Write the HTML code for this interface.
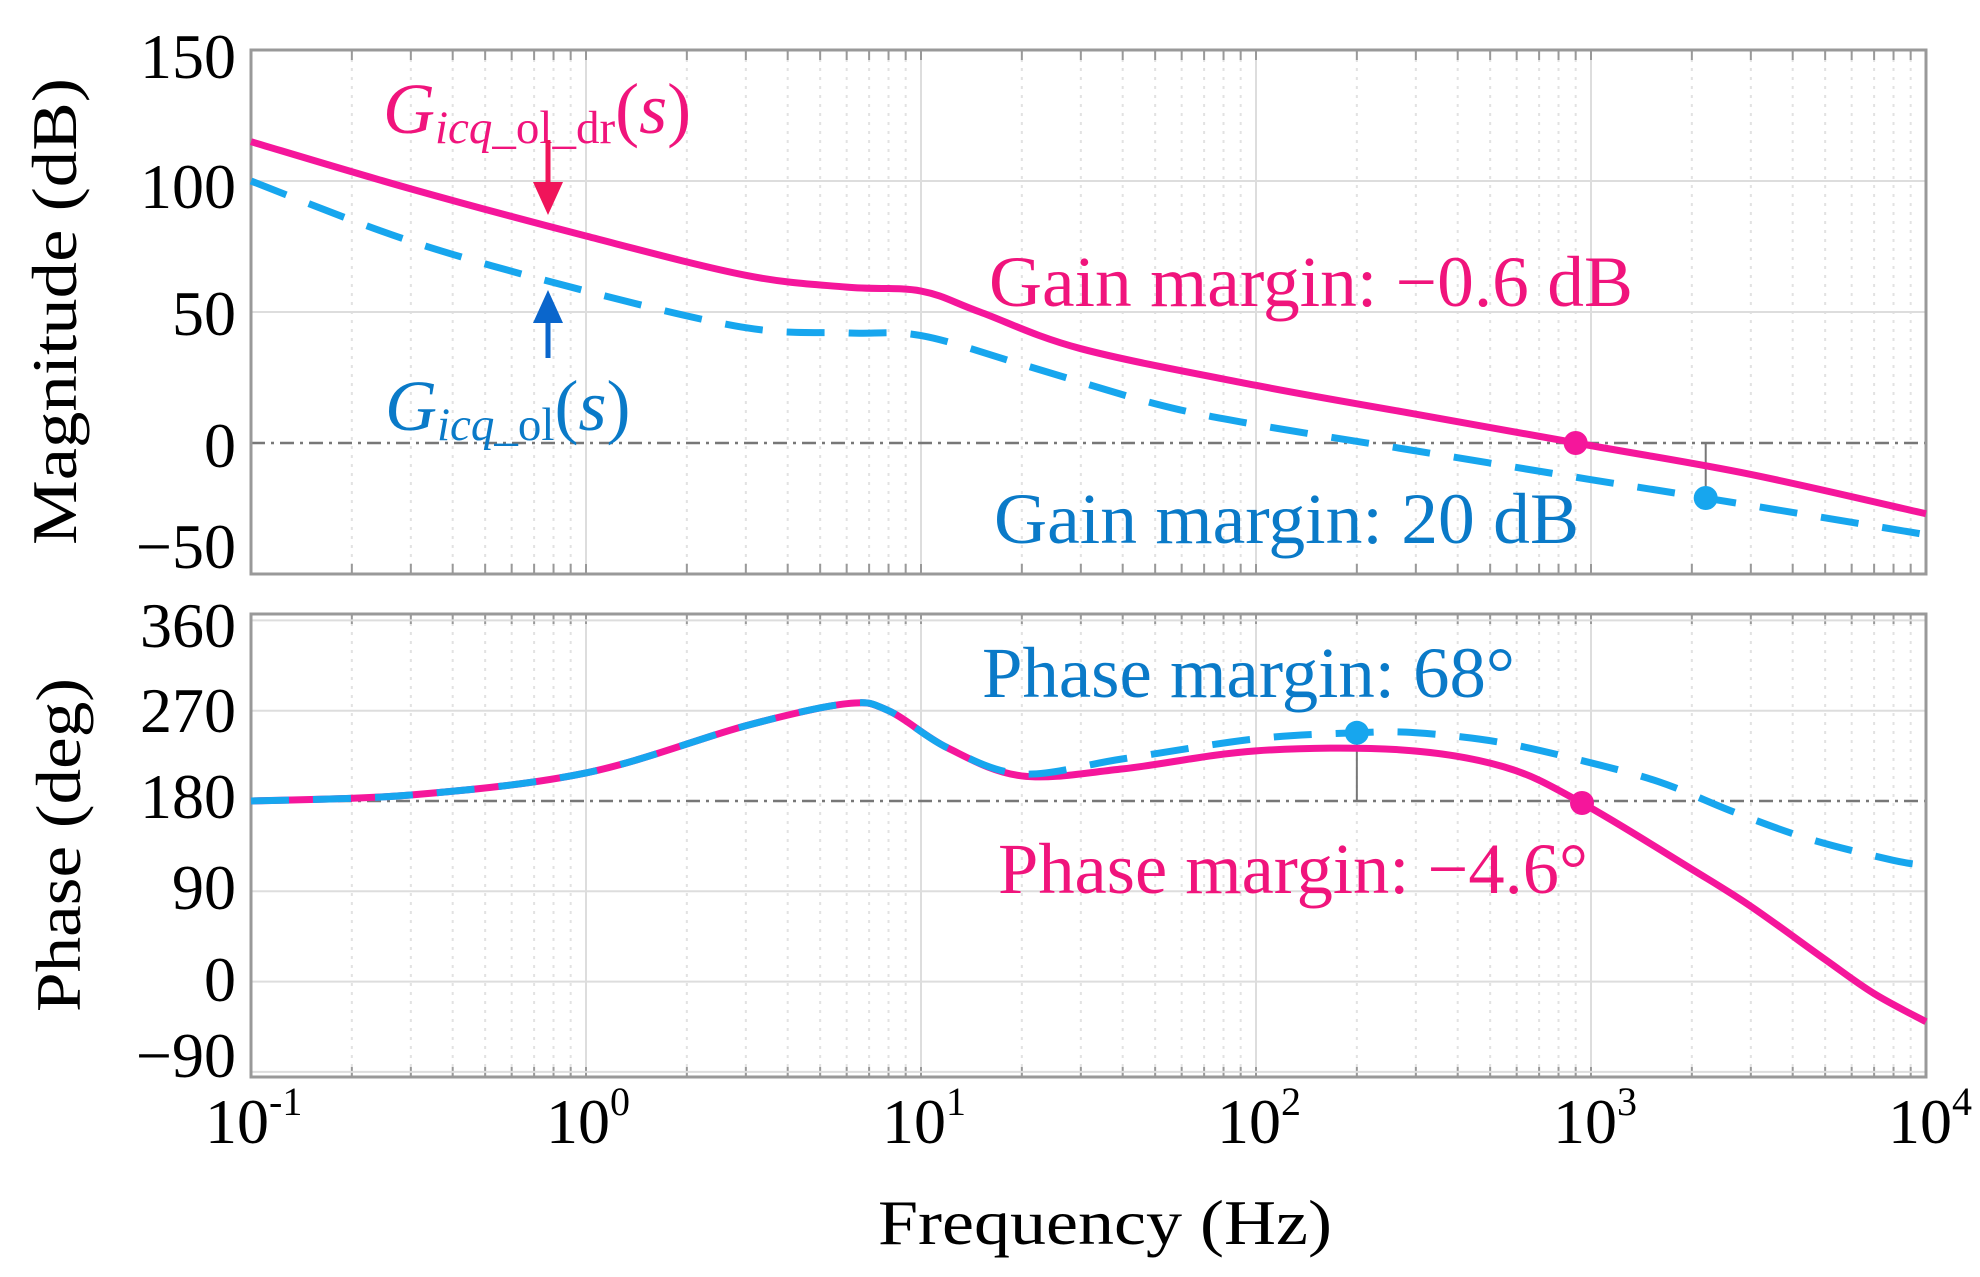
<!DOCTYPE html>
<html><head><meta charset="utf-8">
<style>html,body{margin:0;padding:0;background:#fff}svg{display:block}text{font-family:"Liberation Serif",serif}</style>
</head><body>
<svg id="s" width="1980" height="1277" xmlns="http://www.w3.org/2000/svg">
<g id="grid"></g>
<line x1="251" y1="443" x2="1926" y2="443" stroke="#777" stroke-width="2.5" stroke-dasharray="14,6,3,6"/>
<line x1="251" y1="801" x2="1926" y2="801" stroke="#777" stroke-width="2.5" stroke-dasharray="14,6,3,6"/>
<rect x="251" y="50" width="1675" height="524" fill="none" stroke="#999" stroke-width="3"/>
<rect x="251" y="614" width="1675" height="463" fill="none" stroke="#999" stroke-width="3"/>
<g id="curves"></g>
<g font-size="64" text-anchor="end" fill="#000">
<text x="236" y="78">150</text><text x="236" y="208">100</text><text x="236" y="335">50</text><text x="236" y="467">0</text><text x="236" y="568">−50</text>
<text x="236" y="647">360</text><text x="236" y="732">270</text><text x="236" y="818">180</text><text x="236" y="909">90</text><text x="236" y="1001">0</text><text x="236" y="1077">−90</text>
</g>
<g font-size="64" fill="#000">
<text x="205" y="1143">10<tspan font-size="40" dy="-28">-1</tspan></text>
<text x="546" y="1143">10<tspan font-size="40" dy="-28">0</tspan></text>
<text x="882" y="1143">10<tspan font-size="40" dy="-28">1</tspan></text>
<text x="1217" y="1143">10<tspan font-size="40" dy="-28">2</tspan></text>
<text x="1553" y="1143">10<tspan font-size="40" dy="-28">3</tspan></text>
<text x="1888" y="1143">10<tspan font-size="40" dy="-28">4</tspan></text>
<text x="878" y="1244" textLength="454" lengthAdjust="spacingAndGlyphs">Frequency (Hz)</text>
<text transform="translate(76,545) rotate(-90)" textLength="467" lengthAdjust="spacingAndGlyphs">Magnitude (dB)</text>
<text transform="translate(80,1012) rotate(-90)" textLength="334" lengthAdjust="spacingAndGlyphs">Phase (deg)</text>
</g>
<g font-size="72">
<text x="989" y="306" fill="#f0147c" textLength="644" lengthAdjust="spacingAndGlyphs">Gain margin: −0.6 dB</text>
<text x="994" y="543" fill="#0a7ac8" textLength="585" lengthAdjust="spacingAndGlyphs">Gain margin: 20 dB</text>
<text x="982" y="697" fill="#0a7ac8" textLength="533" lengthAdjust="spacingAndGlyphs">Phase margin: 68°</text>
<text x="998" y="893" fill="#f0147c" textLength="590" lengthAdjust="spacingAndGlyphs">Phase margin: −4.6°</text>
</g>
<text x="383" y="133" fill="#f0147c" font-size="72"><tspan font-style="italic">G</tspan><tspan font-size="47" dy="10"><tspan font-style="italic">icq</tspan>_ol_dr</tspan><tspan dy="-10">(</tspan><tspan font-style="italic">s</tspan>)</text>
<text x="385" y="430" fill="#0a7ac8" font-size="72"><tspan font-style="italic">G</tspan><tspan font-size="47" dy="10"><tspan font-style="italic">icq</tspan>_ol</tspan><tspan dy="-10">(</tspan><tspan font-style="italic">s</tspan>)</text>
<line x1="548" y1="140" x2="548" y2="190" stroke="#f0145a" stroke-width="5"/>
<polygon points="533,182 563,182 548,215" fill="#f0145a"/>
<line x1="548" y1="358" x2="548" y2="315" stroke="#0a66cc" stroke-width="5"/>
<polygon points="533,323 563,323 548,290" fill="#0a66cc"/>
</svg>
<script>
var NS="http://www.w3.org/2000/svg";
function X(f){return 251+335*(Math.log10(f)+1);}
function YM(d){return 50+(150-d)*2.62;}
function YP(d){return 801-(d-180)*1.0033;}
function el(p,n,a){var e=document.createElementNS(NS,n);for(var k in a)e.setAttribute(k,a[k]);p.appendChild(e);return e;}
var g=document.getElementById('grid');
for(var dec=-1;dec<4;dec++)for(var m=1;m<10;m++){
 var x=X(m*Math.pow(10,dec));
 var major=(m==1);
 [[50,574],[614,1077]].forEach(function(r){
  el(g,'line',{x1:x,y1:r[0],x2:x,y2:r[1],stroke:major?'#ddd':'#e2e2e2','stroke-width':2,'stroke-dasharray':major?'':'3,6'});
  el(g,'line',{x1:x,y1:r[0],x2:x,y2:r[0]+10,stroke:'#999','stroke-width':2});
  el(g,'line',{x1:x,y1:r[1],x2:x,y2:r[1]-10,stroke:'#999','stroke-width':2});
 });
}
[100,50,-50].forEach(function(d){var y=YM(d);el(g,'line',{x1:251,y1:y,x2:1926,y2:y,stroke:'#ddd','stroke-width':2});});
[360,270,90,0,-90].forEach(function(d){var y=YP(d);el(g,'line',{x1:251,y1:y,x2:1926,y2:y,stroke:'#ddd','stroke-width':2});});
function path(pts,Y){
 var P=pts.map(function(p){return [X(p[0]),Y(p[1])];});
 var d='M'+P[0][0]+','+P[0][1];
 for(var i=0;i<P.length-1;i++){
  var p0=P[Math.max(i-1,0)],p1=P[i],p2=P[i+1],p3=P[Math.min(i+2,P.length-1)];
  var c1=[p1[0]+(p2[0]-p0[0])/6,p1[1]+(p2[1]-p0[1])/6],c2=[p2[0]-(p3[0]-p1[0])/6,p2[1]-(p3[1]-p1[1])/6];
  d+=' C'+c1[0]+','+c1[1]+' '+c2[0]+','+c2[1]+' '+p2[0]+','+p2[1];
 }
 return d;
}
var c=document.getElementById('curves');
var MAG='#f5169b',BLU='#17a6ee';
var magR=[[0.1,115],[0.3,97],[1,79],[3,64],[6,59.5],[10,58],[15,50],[30,36],[100,22],[300,11],[1000,-1],[3000,-12],[10000,-27]];
var magB=[[0.1,100],[0.3,77],[1,58],[3,44],[6,42],[10,41],[20,30],[50,15],[100,7],[300,-3],[1000,-14],[2200,-21],[10000,-35]];
var phR=[[0.1,180],[0.3,186],[1,208],[3,255],[6,277],[8,270],[12,233],[20,205],[40,212],[100,230],[270,231],[550,214],[940,178],[2000,112],[3000,75],[5000,22],[7000,-12],[10000,-40]];
var phB=[[0.1,180],[0.3,186],[1,208],[3,255],[6,277],[8,270],[12,233],[20,207],[40,222],[100,242],[200,248],[300,248],[525,239],[920,221],[1600,199],[2670,169],[4500,142],[7950,121],[10000,116]];
el(c,'line',{x1:X(2200),y1:YM(0),x2:X(2200),y2:YM(-21),stroke:'#777','stroke-width':2});
el(c,'line',{x1:X(200),y1:YP(180),x2:X(200),y2:YP(248),stroke:'#777','stroke-width':2});
el(c,'path',{d:path(magR,YM),fill:'none',stroke:MAG,'stroke-width':7});
el(c,'path',{d:path(magB,YM),fill:'none',stroke:BLU,'stroke-width':7,'stroke-dasharray':'38,24'});
el(c,'path',{d:path(phR,YP),fill:'none',stroke:MAG,'stroke-width':7});
el(c,'path',{d:path(phB,YP),fill:'none',stroke:BLU,'stroke-width':7,'stroke-dasharray':'38,24'});
el(c,'circle',{cx:X(900),cy:YM(0),r:12,fill:MAG});
el(c,'circle',{cx:X(2200),cy:YM(-21),r:12,fill:BLU});
el(c,'circle',{cx:X(200),cy:YP(248),r:12,fill:BLU});
el(c,'circle',{cx:X(940),cy:YP(178),r:12,fill:MAG});
</script>
</body></html>
